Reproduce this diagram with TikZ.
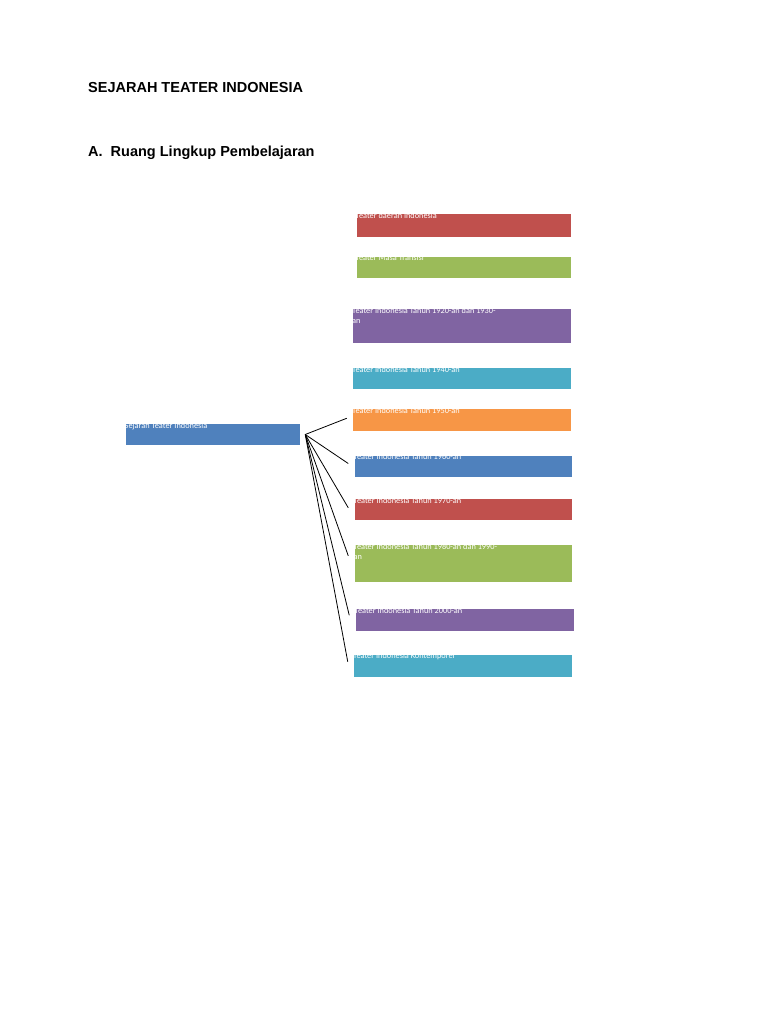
\documentclass[tikz,border=0pt]{standalone}
\usepackage{fontspec}
\setmainfont{Liberation Sans}
\newfontfamily\boxfont{Carlito}
\usetikzlibrary{shadows}
\definecolor{cred}{HTML}{C0504D}
\definecolor{cgreen}{HTML}{9BBB59}
\definecolor{cpurple}{HTML}{8064A2}
\definecolor{ccyan}{HTML}{4BACC6}
\definecolor{corange}{HTML}{F79646}
\definecolor{cblue}{HTML}{4F81BD}
\begin{document}
\begin{tikzpicture}[x=1pt,y=-1pt,
  bx/.style={draw=white,line width=4.5pt,inner sep=0pt,
    drop shadow={shadow xshift=1.5pt,shadow yshift=-1.5pt,opacity=0.35}},
  tx/.style={anchor=north west,inner sep=0pt,text=white,font=\boxfont\fontsize{8.3}{10}\selectfont,align=left},
  ln/.style={black,line width=0.8pt}]
\useasboundingbox (0,0) rectangle (768,1024);
\fill[white] (0,0) rectangle (768,1024);
\node[anchor=base west,inner sep=0pt,font=\bfseries\fontsize{14.5}{17}\selectfont] (t1) at (88,93) {SEJARAH TEATER INDONESIA};
\node[anchor=base west,inner sep=0pt,font=\bfseries\fontsize{14.5}{17}\selectfont] (t2) at (88,157) {A.\ \ Ruang Lingkup Pembelajaran};
% boxes: fill=color, centre and size between outer and inner
\newcommand\mybox[7]{%
  \node[bx,fill=#2,minimum width=#5-#3,minimum height=#6-#4] (#1) at ({(#3+#5)/2},{(#4+#6)/2}) {};
  \node[tx] (#1t) at ({#3+1},{#4+0.5}) {#7};}
\mybox{root}{cblue}{123.5}{422}{302}{447}{Sejarah Teater Indonesia}
\mybox{b1}{cred}{354.5}{212}{573.5}{239}{Teater daerah Indonesia}
\mybox{b2}{cgreen}{354.5}{254.5}{573.5}{280.5}{Teater Masa Transisi}
\mybox{b3}{cpurple}{351}{307}{573.5}{345.5}{Teater Indonesia Tahun 1920-an dan 1930-\\an}
\mybox{b4}{ccyan}{351}{366}{573.5}{391}{Teater Indonesia Tahun 1940-an}
\mybox{b5}{corange}{351}{407}{573.5}{433.5}{Teater Indonesia Tahun 1950-an}
\mybox{b6}{cblue}{352.5}{453.5}{574}{479.5}{Teater Indonesia Tahun 1960-an}
\mybox{b7}{cred}{352.5}{497}{574.5}{522.5}{Teater Indonesia Tahun 1970-an}
\mybox{b8}{cgreen}{352.5}{543}{574.5}{584.5}{Teater Indonesia Tahun 1980-an dan 1990-\\an}
\mybox{b9}{cpurple}{353.5}{607}{576.5}{633.5}{Teater Indonesia Tahun 2000-an}
\mybox{b10}{ccyan}{352}{652.5}{574.5}{679}{Teater Indonesia Kontemporer}
\coordinate (r) at ([xshift=1pt]root.east);
\draw[ln] (r) -- ([xshift=-2pt,yshift=2pt]b5.west);
\draw[ln] (r) -- ([xshift=-2pt,yshift=3pt]b6.west);
\draw[ln] (r) -- ([xshift=-2pt,yshift=2pt]b7.west);
\draw[ln] (r) -- ([xshift=-2pt,yshift=8pt]b8.west);
\draw[ln] (r) -- ([xshift=-2pt,yshift=5pt]b9.west);
\draw[ln] (r) -- ([xshift=-2pt,yshift=4pt]b10.west);
\end{tikzpicture}
\end{document}
